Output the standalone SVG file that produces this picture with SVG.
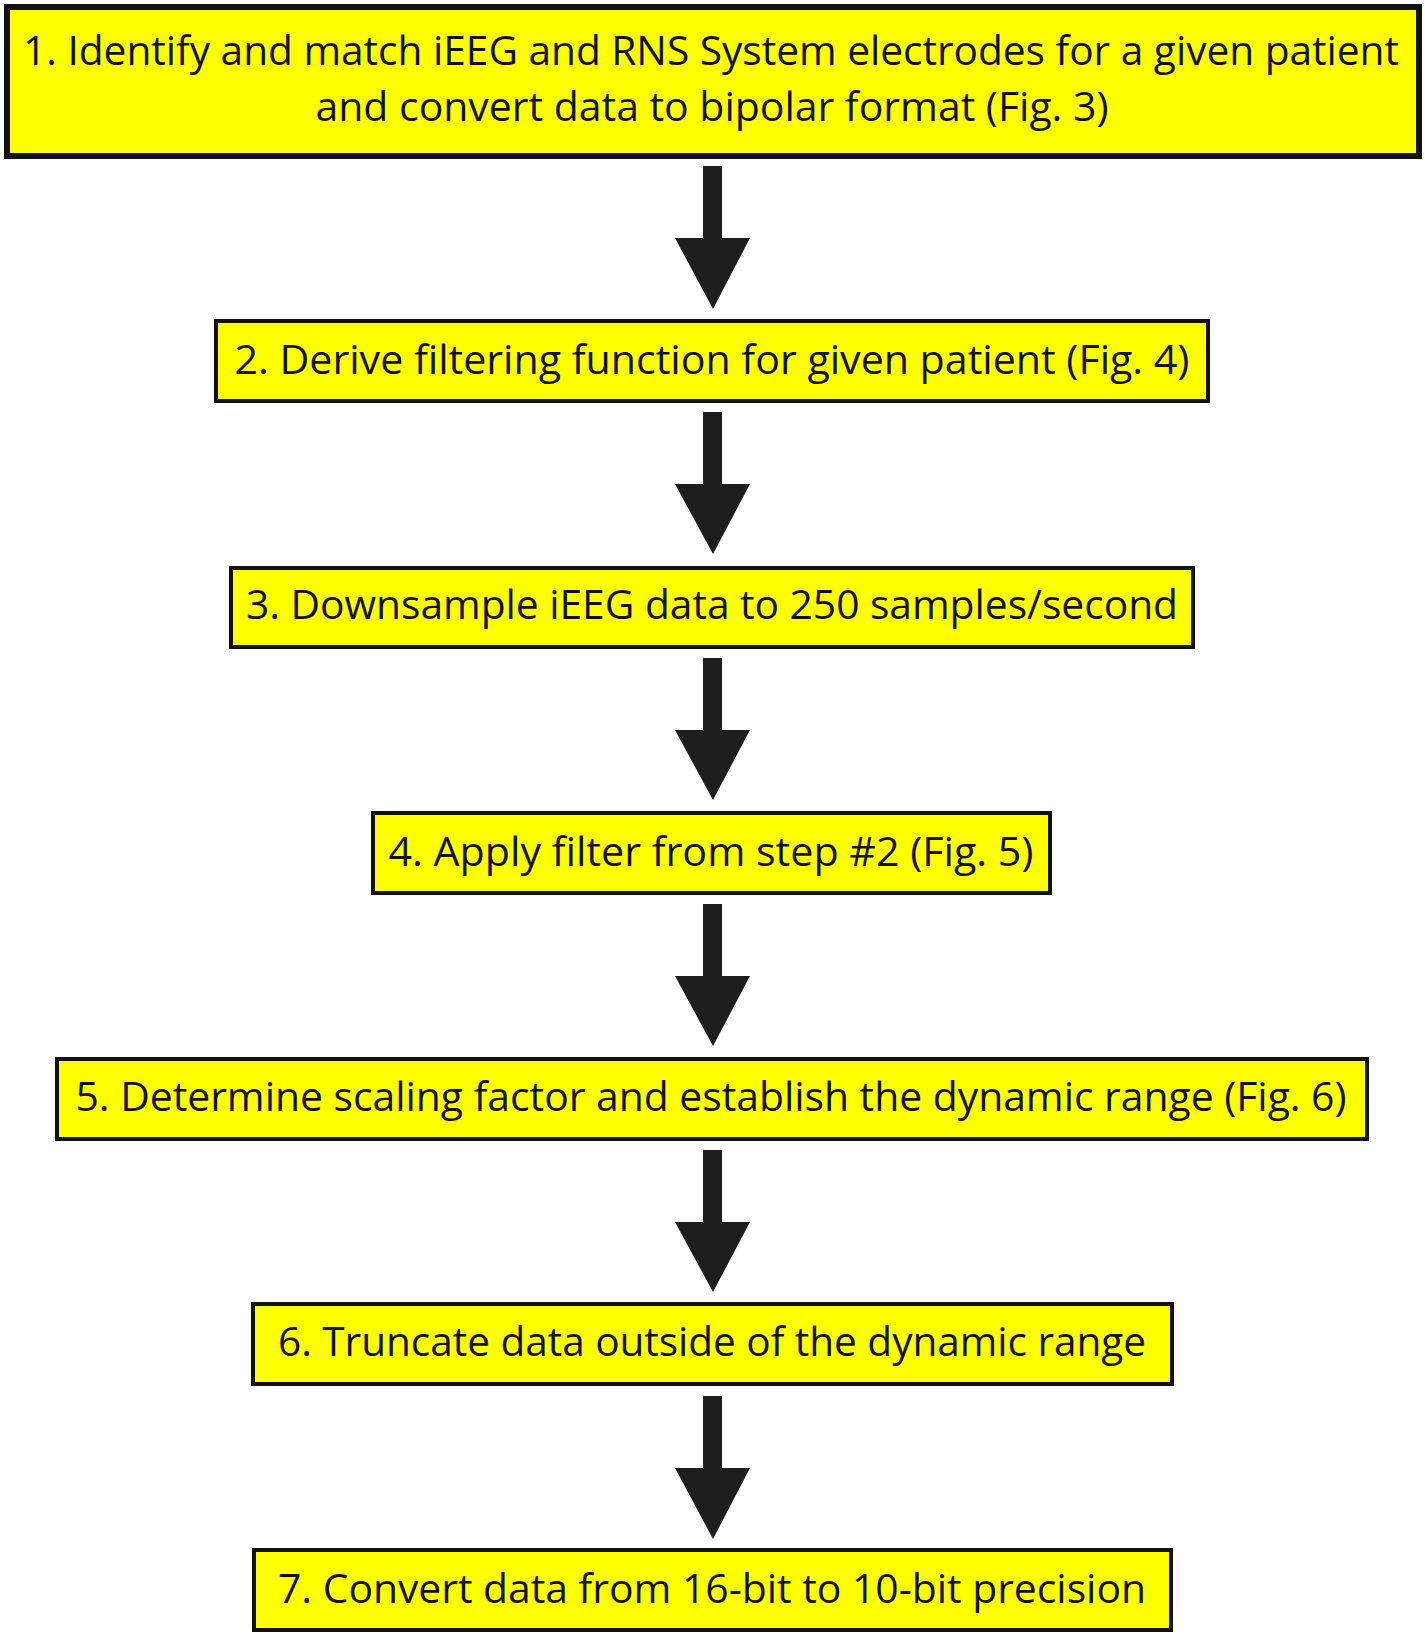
<svg xmlns="http://www.w3.org/2000/svg" width="1425" height="1637" viewBox="0 0 1425 1637">
<style>
.box{fill:#ffff00;stroke:#111;stroke-width:4}
.t{font-family:"Open Sans","Liberation Sans",sans-serif;font-size:40px;fill:#111;text-anchor:middle}
.arr{fill:#1e1e1e}
</style>
<rect width="1425" height="1637" fill="#fff"/>
<g id="n1"><rect class="box" x="7" y="7" width="1412" height="149" style="stroke-width:6"/>
<text class="t" x="711" y="65" textLength="1376" lengthAdjust="spacingAndGlyphs">1. Identify and match iEEG and RNS System electrodes for a given patient</text>
<text class="t" x="712" y="121" textLength="793" lengthAdjust="spacingAndGlyphs">and convert data to bipolar format (Fig. 3)</text></g>
<g id="n2"><rect class="box" x="216" y="321" width="992" height="80"/>
<text class="t" x="712" y="374" textLength="955" lengthAdjust="spacingAndGlyphs">2. Derive filtering function for given patient (Fig. 4)</text></g>
<g id="n3"><rect class="box" x="231" y="568" width="962" height="79"/>
<text class="t" x="712" y="619" textLength="932" lengthAdjust="spacingAndGlyphs">3. Downsample iEEG data to 250 samples/second</text></g>
<g id="n4"><rect class="box" x="373" y="813" width="677" height="80"/>
<text class="t" x="711" y="866" textLength="645" lengthAdjust="spacingAndGlyphs">4. Apply filter from step #2 (Fig. 5)</text></g>
<g id="n5"><rect class="box" x="57" y="1059" width="1310" height="80"/>
<text class="t" x="711" y="1111" textLength="1271" lengthAdjust="spacingAndGlyphs">5. Determine scaling factor and establish the dynamic range (Fig. 6)</text></g>
<g id="n6"><rect class="box" x="253" y="1304" width="919" height="80"/>
<text class="t" x="712" y="1356" textLength="868" lengthAdjust="spacingAndGlyphs">6. Truncate data outside of the dynamic range</text></g>
<g id="n7"><rect class="box" x="254" y="1550" width="917" height="80"/>
<text class="t" x="712" y="1603" textLength="868" lengthAdjust="spacingAndGlyphs">7. Convert data from 16-bit to 10-bit precision</text></g>
<g id="connectors">
<path class="arr" d="M703 166H722V238H750L713 309L675 238H703Z"/>
<path class="arr" d="M703 412H722V484H750L713 554L675 484H703Z"/>
<path class="arr" d="M703 658H722V730H750L713 800L675 730H703Z"/>
<path class="arr" d="M703 904H722V976H750L713 1046L675 976H703Z"/>
<path class="arr" d="M703 1150H722V1222H750L713 1292L675 1222H703Z"/>
<path class="arr" d="M703 1396H722V1468H750L713 1539L675 1468H703Z"/>
</g>
</svg>
